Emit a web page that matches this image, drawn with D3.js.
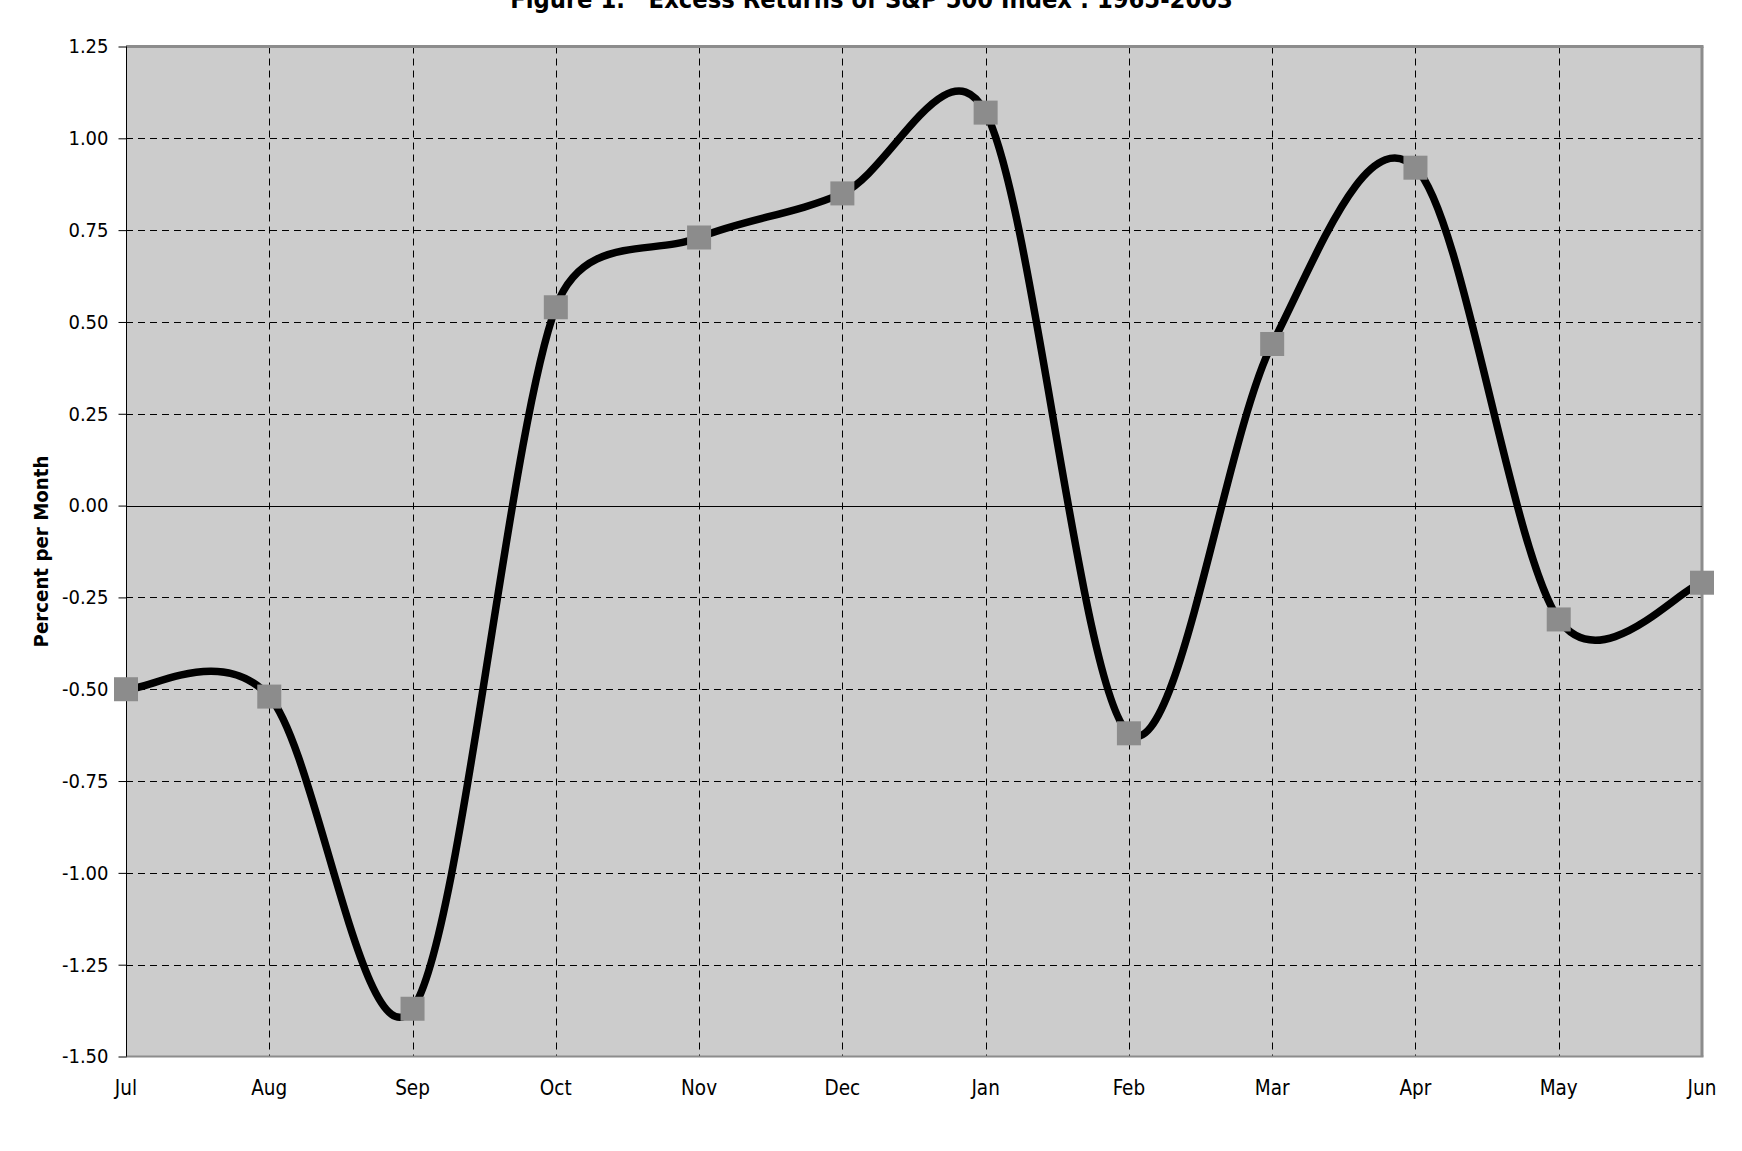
<!DOCTYPE html>
<html>
<head>
<meta charset="utf-8">
<script src="https://cdn.jsdelivr.net/npm/d3@7"></script>
<style>
  html, body { margin: 0; padding: 0; background: #ffffff; }
  svg { display: block; }
  text { font-family: 'DejaVu Sans Condensed', 'DejaVu Sans', sans-serif; font-stretch: condensed; fill: #000; }
</style>
</head>
<body>
<svg id="chart" width="1742" height="1151"></svg>
<script>
// ---- data ----
const months = ["Jul", "Aug", "Sep", "Oct", "Nov", "Dec", "Jan", "Feb", "Mar", "Apr", "May", "Jun"];
const excessReturns = [-0.50, -0.52, -1.37, 0.54, 0.73, 0.85, 1.07, -0.62, 0.44, 0.92, -0.31, -0.21];
const yTicks = [1.25, 1.00, 0.75, 0.50, 0.25, 0.00, -0.25, -0.50, -0.75, -1.00, -1.25, -1.50];
const titleText = "Figure 1.   Excess Returns of S&P 500 Index : 1965-2003";
const yTitleText = "Percent per Month";

// ---- layout ----
const W = 1742, H = 1151;
const plot = { left: 126, right: 1702, top: 46.5, bottom: 1056.5 };

const svg = d3.select("#chart");
svg.append("rect").attr("width", W).attr("height", H).attr("fill", "#ffffff");

const x = d3.scalePoint().domain(months).range([plot.left, plot.right]).padding(0);
const y = d3.scaleLinear().domain([-1.5, 1.25]).range([plot.bottom, plot.top]);

// plot area
svg.append("rect")
  .attr("x", plot.left).attr("y", plot.top)
  .attr("width", plot.right - plot.left).attr("height", plot.bottom - plot.top)
  .attr("fill", "#cccccc");

// horizontal dashed gridlines
svg.append("g").selectAll("line")
  .data(yTicks.filter(d => d !== 1.25 && d !== -1.5 && d !== 0))
  .join("line")
  .attr("x1", plot.left).attr("x2", plot.right)
  .attr("y1", d => Math.round(y(d)) + 0.5).attr("y2", d => Math.round(y(d)) + 0.5)
  .attr("stroke", "#000").attr("stroke-width", 1).attr("stroke-dasharray", "7,5");

// vertical dashed gridlines
svg.append("g").selectAll("line")
  .data(months.slice(1, -1))
  .join("line")
  .attr("x1", d => Math.round(x(d)) + 0.5).attr("x2", d => Math.round(x(d)) + 0.5)
  .attr("y1", plot.top).attr("y2", plot.bottom)
  .attr("stroke", "#000").attr("stroke-width", 1).attr("stroke-dasharray", "7,5");

// plot border (top, right, bottom gray)
svg.append("line").attr("x1", plot.left).attr("x2", plot.right + 1.5)
  .attr("y1", plot.top).attr("y2", plot.top).attr("stroke", "#8c8c8c").attr("stroke-width", 3);
svg.append("line").attr("x1", plot.right).attr("x2", plot.right)
  .attr("y1", plot.top).attr("y2", plot.bottom).attr("stroke", "#8c8c8c").attr("stroke-width", 3);
svg.append("line").attr("x1", plot.left).attr("x2", plot.right + 1.5)
  .attr("y1", plot.bottom).attr("y2", plot.bottom).attr("stroke", "#8c8c8c").attr("stroke-width", 2);

// zero line (category axis)
svg.append("line").attr("x1", plot.left).attr("x2", plot.right)
  .attr("y1", Math.round(y(0)) + 0.5).attr("y2", Math.round(y(0)) + 0.5)
  .attr("stroke", "#000").attr("stroke-width", 1);

// y axis
const yAxis = d3.axisLeft(y).tickValues(yTicks).tickFormat(d => d.toFixed(2))
  .tickSize(8).tickPadding(10);
const yg = svg.append("g").attr("transform", `translate(${plot.left + 0.5},0)`).call(yAxis);
yg.select(".domain").attr("stroke", "#000").attr("d", `M0,${plot.top}V${plot.bottom}`);
yg.selectAll(".tick line").attr("stroke", "#000");
yg.selectAll(".tick text")
  .attr("font-size", 20)
  .style("font-family", "'DejaVu Sans Condensed', 'DejaVu Sans', sans-serif")
  .attr("fill", "#000");

// x labels (low position)
svg.append("g").selectAll("text")
  .data(months)
  .join("text")
  .attr("x", d => x(d))
  .attr("y", 1095)
  .attr("text-anchor", "middle")
  .attr("font-size", 20.5)
  .text(d => d);

// Excel-style smoothed curve: Catmull-Rom (1/6) control points,
// each control arm capped at half of its segment's length.
function curveExcelSmooth(context) {
  let pts;
  return {
    areaStart() {}, areaEnd() {},
    lineStart() { pts = []; },
    point(px, py) { pts.push([+px, +py]); },
    lineEnd() {
      const n = pts.length;
      if (!n) return;
      context.moveTo(pts[0][0], pts[0][1]);
      const dist = (a, b) => Math.hypot(b[0] - a[0], b[1] - a[1]);
      for (let i = 0; i < n - 1; i++) {
        const p0 = pts[Math.max(0, i - 1)], p1 = pts[i], p2 = pts[i + 1], p3 = pts[Math.min(n - 1, i + 2)];
        const half = dist(p1, p2) / 2;
        let t1 = [(p2[0] - p0[0]) / 6, (p2[1] - p0[1]) / 6];
        let t2 = [(p3[0] - p1[0]) / 6, (p3[1] - p1[1]) / 6];
        const l1 = Math.hypot(t1[0], t1[1]), l2 = Math.hypot(t2[0], t2[1]);
        if (l1 > half && l1 > 0) t1 = [t1[0] * half / l1, t1[1] * half / l1];
        if (l2 > half && l2 > 0) t2 = [t2[0] * half / l2, t2[1] * half / l2];
        context.bezierCurveTo(p1[0] + t1[0], p1[1] + t1[1], p2[0] - t2[0], p2[1] - t2[1], p2[0], p2[1]);
      }
    }
  };
}

const line = d3.line()
  .x((d, i) => x(months[i]))
  .y(d => y(d))
  .curve(curveExcelSmooth);
svg.append("path")
  .datum(excessReturns)
  .attr("d", line)
  .attr("fill", "none")
  .attr("stroke", "#000")
  .attr("stroke-width", 7.5)
  .attr("stroke-linejoin", "round")
  .attr("stroke-linecap", "round");

// markers
const ms = 24;
svg.append("g").selectAll("rect")
  .data(excessReturns)
  .join("rect")
  .attr("x", (d, i) => x(months[i]) - ms / 2)
  .attr("y", d => y(d) - ms / 2)
  .attr("width", ms).attr("height", ms)
  .attr("fill", "#8c8c8c");

// helper: fit a text to a width
function fitText(sel, target, base) {
  sel.attr("font-size", base);
  const len = sel.node().getComputedTextLength();
  if (len > 0) sel.attr("font-size", base * target / len);
}

// title
const title = svg.append("text")
  .attr("x", 871.5).attr("y", 8)
  .attr("text-anchor", "middle")
  .attr("font-weight", "bold")
  .style("white-space", "pre")
  .attr("xml:space", "preserve")
  .text(titleText);
fitText(title, 723, 22);

// y title
const yt = svg.append("text")
  .attr("transform", "translate(48,551.5) rotate(-90)")
  .attr("text-anchor", "middle")
  .attr("font-weight", "bold")
  .text(yTitleText);
fitText(yt, 192, 20);
</script>
</body>
</html>
